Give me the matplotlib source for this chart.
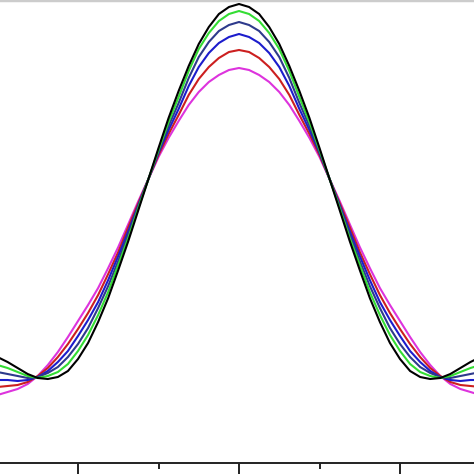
import numpy as np
import matplotlib
matplotlib.use("Agg")
import matplotlib.pyplot as plt
from matplotlib.ticker import FixedLocator

# half profiles (centre -> right edge), sampled every 0.125 x-units; curves are symmetric
x_half = np.linspace(0, 3, 25)

black = [459, 456, 449, 436, 419, 397, 372, 345, 315, 284, 253, 222, 193,
         165, 141, 120, 104, 92, 86, 84, 85, 89, 95, 101, 106]
green = [452, 449, 442, 430, 414, 392, 366, 341, 313, 284, 255, 225, 198,
         171, 148, 128, 112, 99, 91, 87, 85, 87, 91, 95, 98]
navy = [441, 438, 432, 421, 406, 385, 360, 337, 311, 284, 257, 229, 202,
        177, 155, 135, 119, 106, 96, 90, 86, 85, 87, 89, 91]
blue = [429, 426, 420, 410, 396, 377, 354, 333, 310, 284, 258, 232, 207,
        183, 161, 143, 127, 112, 101, 92, 86, 83, 82, 83, 83]
red = [413, 411, 405, 396, 384, 368, 348, 329, 308, 284, 260, 236, 211,
       189, 168, 150, 134, 119, 106, 95, 87, 81, 78, 77, 76]
magenta = [395, 393, 388, 381, 371, 358, 342, 325, 306, 284, 262, 239, 216,
           195, 175, 158, 142, 126, 111, 98, 87, 79, 74, 71, 68]

series = [
    (magenta, "#dd33dd"),
    (red, "#cc1f1f"),
    (blue, "#1c1ccc"),
    (navy, "#2e3a8c"),
    (green, "#33dd33"),
    (black, "#000000"),
]


def mirror(x, y):
    y = np.asarray(y, dtype=float)
    return np.concatenate([-x[:0:-1], x]), np.concatenate([y[:0:-1], y])


fig = plt.figure(figsize=(4.74, 4.74), dpi=100)
ax = fig.add_axes([0, 11 / 474, 1, 463 / 474])

for vals, col in series:
    xs, ys = mirror(x_half, vals)
    ax.plot(xs, ys, color=col, lw=1.5, solid_capstyle="round")

ax.set_xlim(-2.969, 2.919)
ax.set_ylim(0, 463)

ax.spines["left"].set_visible(False)
ax.spines["right"].set_visible(False)
ax.spines["top"].set_color("#cccccc")
ax.spines["top"].set_linewidth(2.5)
ax.spines["bottom"].set_color("#222222")
ax.spines["bottom"].set_linewidth(1.4)

ax.xaxis.set_major_locator(FixedLocator([-2, 0, 2]))
ax.xaxis.set_minor_locator(FixedLocator([-1, 1]))
ax.tick_params(axis="x", which="major", direction="out", length=9, width=1.4,
               color="#222222", labelbottom=False)
ax.tick_params(axis="x", which="minor", direction="out", length=4, width=1.4,
               color="#222222")
ax.set_yticks([])

fig.savefig("out.png", dpi=100)
